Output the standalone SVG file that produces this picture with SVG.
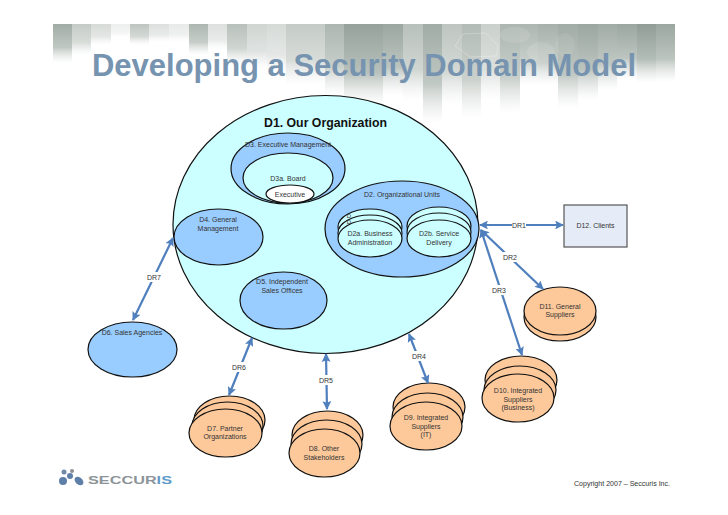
<svg xmlns="http://www.w3.org/2000/svg" width="728" height="515" viewBox="0 0 728 515">
<style>
text{font-family:"Liberation Sans",Arial,sans-serif;font-size:7px;fill:#333;text-anchor:middle}
.s{stroke:#111;stroke-width:1.2}
.b{fill:#99ccff}.c{fill:#ccffff}.o{fill:#fdc99b}.w{fill:#fff}
.l{stroke:#4f7fbd;stroke-width:2.2;fill:none;marker-start:url(#a);marker-end:url(#a)}
.g{fill:#fff}
#band rect{fill:url(#f)}
</style>
<defs>
<marker id="a" viewBox="0 0 10 10" refX="9" refY="5" markerWidth="4" markerHeight="4" orient="auto-start-reverse"><path d="M0 0L10 5L0 10L2 5Z" fill="#4f7fbd"/></marker>
<linearGradient id="f" x1="0" y1="0" x2="0" y2="1"><stop offset="0" stop-color="#8a978f"/><stop offset=".6" stop-color="#b0bab4"/><stop offset="1" stop-color="#d5dad7" stop-opacity="0"/></linearGradient>
</defs>
<g id="band">
<rect x="53" y="24" width="19" height="39" opacity=".8"/>
<rect x="72" y="24" width="19" height="31" opacity=".5"/>
<rect x="91" y="24" width="20" height="21" opacity=".35"/>
<rect x="111" y="24" width="19" height="14" opacity=".15"/>
<rect x="130" y="24" width="19" height="21" opacity=".55"/>
<rect x="149" y="24" width="20" height="18" opacity=".3"/>
<rect x="169" y="24" width="20" height="18" opacity=".2"/>
<rect x="189" y="24" width="19" height="31" opacity=".7"/>
<rect x="208" y="24" width="19" height="26" opacity=".3"/>
<rect x="227" y="24" width="20" height="41" opacity=".6"/>
<rect x="247" y="24" width="20" height="46" opacity=".4"/>
<rect x="267" y="24" width="19" height="51" opacity=".35"/>
<rect x="286" y="24" width="20" height="61" opacity=".5"/>
<rect x="306" y="24" width="19" height="61" opacity=".5"/>
<rect x="325" y="24" width="19" height="71" opacity=".7"/>
<rect x="344" y="24" width="20" height="81" opacity=".9"/>
<rect x="364" y="24" width="19" height="81" opacity=".9"/>
<rect x="383" y="24" width="20" height="71" opacity=".85"/>
<rect x="403" y="24" width="20" height="76" opacity=".6"/>
<rect x="423" y="24" width="19" height="99" opacity=".8"/>
<rect x="442" y="24" width="20" height="81" opacity=".55"/>
<rect x="462" y="24" width="19" height="94" opacity=".65"/>
<rect x="481" y="24" width="19" height="76" opacity=".45"/>
<rect x="500" y="24" width="20" height="89" opacity=".7"/>
<rect x="520" y="24" width="18" height="61" opacity=".7"/>
<rect x="538" y="24" width="20" height="61" opacity=".75"/>
<rect x="558" y="24" width="20" height="84" opacity=".8"/>
<rect x="578" y="24" width="20" height="76" opacity=".85"/>
<rect x="598" y="24" width="19" height="66" opacity=".8"/>
<rect x="617" y="24" width="20" height="56" opacity=".85"/>
<rect x="637" y="24" width="19" height="59" opacity=".95"/>
<rect x="656" y="24" width="19" height="58" opacity=".85"/>
<path d="M463 34L486 33L498 46L496 56L470 57L455 46Z" fill="none" stroke="#fff" stroke-opacity=".25"/>
<ellipse cx="515" cy="35" rx="15" ry="8" fill="#fff" fill-opacity=".12"/>
<ellipse cx="541" cy="52" rx="14" ry="10" fill="#fff" fill-opacity=".12"/>
<ellipse cx="565" cy="45" rx="10" ry="12" fill="#fff" fill-opacity=".08"/>
</g>
<text x="364" y="76" textLength="544" lengthAdjust="spacingAndGlyphs" style="font-size:31px;font-weight:bold;fill:#7693b0">Developing a Security Domain Model</text>
<g id="D1"><ellipse class="c s" cx="325.500" cy="224.500" rx="152.500" ry="129"/><text x="325.500" y="127" style="font-size:12.300px;font-weight:bold;fill:#111">D1. Our Organization</text></g>
<g id="D3"><ellipse class="b s" cx="288" cy="168.500" rx="57" ry="35.500"/><text x="288" y="147">D3. Executive Management</text></g>
<g id="D3a"><ellipse class="c s" cx="288" cy="178" rx="45" ry="25"/><text x="288" y="181">D3a. Board</text></g>
<g id="Executive"><ellipse class="w s" cx="290" cy="194" rx="24" ry="9"/><text x="290" y="197">Executive</text></g>
<g id="D2"><ellipse class="b s" cx="402" cy="229" rx="77" ry="48"/><text x="402" y="197">D2. Organizational Units</text></g>
<g id="D2a"><ellipse class="c s" cx="370" cy="227" rx="32" ry="18"/><ellipse class="c s" cx="370" cy="233" rx="32" ry="18"/><text x="349" y="217.500" style="font-size:6px">D</text><text x="349" y="224" style="font-size:6px">D</text><ellipse class="c s" cx="370" cy="238.500" rx="32" ry="18.500"/><text x="370" y="236">D2a. Business</text><text x="370" y="245">Administration</text></g>
<g id="D2b"><ellipse class="c s" cx="439" cy="226" rx="32" ry="19"/><ellipse class="c s" cx="439" cy="232" rx="32" ry="19"/><ellipse class="c s" cx="439" cy="238.500" rx="32" ry="18.500"/><text x="439" y="236">D2b. Service</text><text x="439" y="245">Delivery</text></g>
<g id="D4"><ellipse class="b s" cx="218.500" cy="237" rx="44.500" ry="28"/><text x="218" y="222">D4. General</text><text x="218" y="231">Management</text></g>
<g id="D5"><ellipse class="b s" cx="283.500" cy="300.500" rx="43.500" ry="28.500"/><text x="282" y="284">D5. Independent</text><text x="282" y="293">Sales Offices</text></g>
<g id="D6"><ellipse class="b s" cx="132.500" cy="349.500" rx="44.500" ry="27.500"/><text x="132" y="335">D6. Sales Agencies</text></g>
<g id="D7"><ellipse class="o s" cx="229.500" cy="420" rx="35.500" ry="24"/><ellipse class="o s" cx="227.500" cy="426" rx="35.500" ry="24"/><ellipse class="o s" cx="225.500" cy="433" rx="36.500" ry="24"/><text x="225" y="431">D7. Partner</text><text x="225" y="439">Organizations</text></g>
<g id="D8"><ellipse class="o s" cx="327.500" cy="435" rx="35.500" ry="24"/><ellipse class="o s" cx="326.500" cy="444" rx="35.500" ry="24"/><ellipse class="o s" cx="324.500" cy="453" rx="35.500" ry="24"/><text x="324" y="451">D8. Other</text><text x="324" y="460">Stakeholders</text></g>
<g id="D9"><ellipse class="o s" cx="429" cy="407" rx="36" ry="24"/><ellipse class="o s" cx="427.500" cy="417" rx="35.500" ry="24"/><ellipse class="o s" cx="426" cy="426" rx="36" ry="24"/><text x="426" y="420">D9. Integrated</text><text x="426" y="429">Suppliers</text><text x="426" y="437">(IT)</text></g>
<g id="D10"><ellipse class="o s" cx="521" cy="380" rx="36" ry="24"/><ellipse class="o s" cx="520" cy="390" rx="36" ry="24"/><ellipse class="o s" cx="518" cy="398" rx="36" ry="24"/><text x="518" y="393">D10. Integrated</text><text x="518" y="402">Suppliers</text><text x="518" y="410">(Business)</text></g>
<g id="D11"><ellipse class="o s" cx="560" cy="317" rx="36" ry="24"/><ellipse class="o s" cx="560" cy="311" rx="36" ry="24"/><text x="560" y="309">D11. General</text><text x="560" y="317">Suppliers</text></g>
<g id="D12"><rect x="564" y="205" width="63" height="42" fill="#e6ecf7" stroke="#555" stroke-width="1.200"/><text x="595.500" y="228">D12. Clients</text></g>
<g id="connectors">
<path class="l" d="M480 225H563"/>
<path class="l" d="M481 230L543 289"/>
<path class="l" d="M481 230L522 355"/>
<path class="l" d="M409 334L428 383"/>
<path class="l" d="M326 354L327 409"/>
<path class="l" d="M252 338L229 395"/>
<path class="l" d="M173 238L133 320"/>
<rect class="g" x="512" y="220" width="14" height="10"/><text x="519" y="228">DR1</text>
<rect class="g" x="503" y="252" width="14" height="10"/><text x="510" y="260">DR2</text>
<rect class="g" x="492" y="285" width="14" height="10"/><text x="499" y="293">DR3</text>
<rect class="g" x="412" y="351" width="14" height="10"/><text x="419" y="359">DR4</text>
<rect class="g" x="319" y="375" width="14" height="10"/><text x="326" y="383">DR5</text>
<rect class="g" x="232" y="362" width="14" height="10"/><text x="239" y="370">DR6</text>
<rect class="g" x="147" y="272" width="14" height="10"/><text x="154" y="280">DR7</text>
</g>
<g id="logo">
<circle cx="63" cy="481" r="4" fill="#5d7fa8"/><circle cx="70" cy="476" r="3" fill="#5d7fa8"/><circle cx="64" cy="472" r="2.500" fill="#6f8aa8"/><circle cx="72" cy="471" r="2" fill="#8a8f94"/><ellipse cx="79" cy="481" rx="5" ry="3.500" fill="#5d7fa8" transform="rotate(40 79 481)"/>
<text x="88" y="484" textLength="84" lengthAdjust="spacingAndGlyphs" style="font-size:11.500px;font-weight:bold;text-anchor:start;fill:#8d9499">SECCUR<tspan fill="#5f9bc8">IS</tspan></text>
</g>
<text x="622" y="486" textLength="96" lengthAdjust="spacingAndGlyphs">Copyright 2007 – Seccuris Inc.</text>
</svg>
